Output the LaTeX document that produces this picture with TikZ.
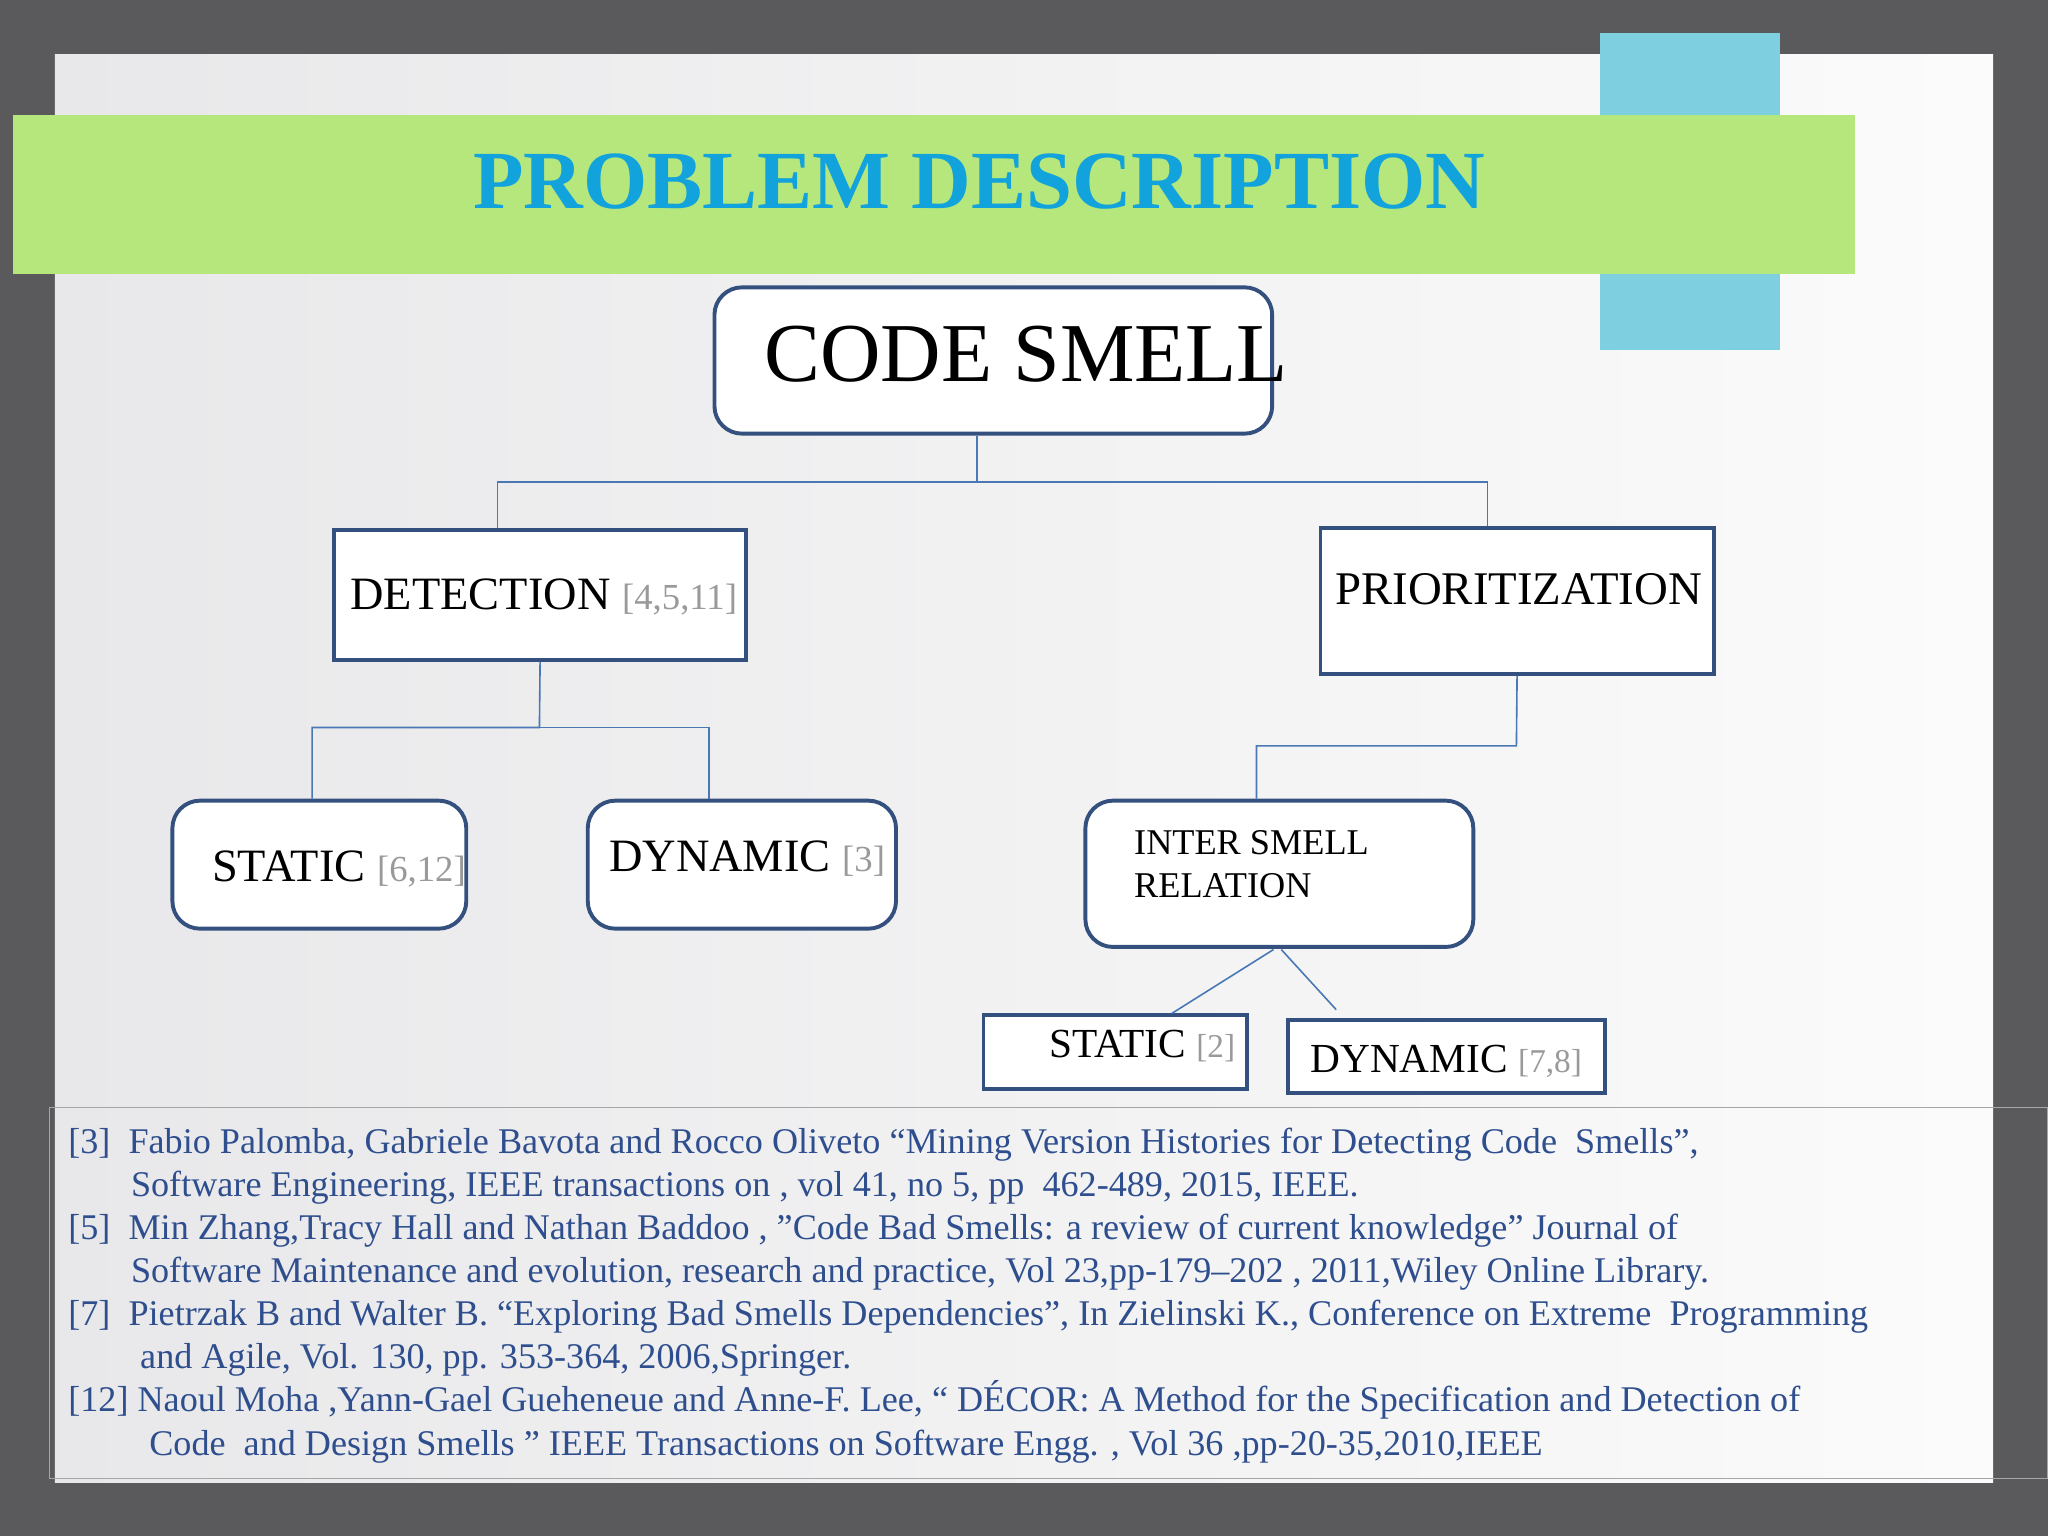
\documentclass[tikz,border=0pt]{standalone}
\usepackage{fontspec}
\setmainfont{Liberation Serif}
\definecolor{frame}{HTML}{5A5A5C}
\definecolor{slide}{HTML}{E8E8EA}
\definecolor{band}{HTML}{B5E77C}
\definecolor{cyanr}{HTML}{7ECFDF}
\definecolor{titleblue}{HTML}{12A3DD}
\definecolor{boxb}{HTML}{34507E}
\definecolor{linkb}{HTML}{4A78B4}
\definecolor{refb}{HTML}{2E4E8E}
\definecolor{cite}{HTML}{9A9A9A}
\tikzset{
 rbox/.style={draw=boxb,line width=1.7pt,rounded corners=12pt,fill=white},
 sbox/.style={draw=boxb,line width=1.7pt,fill=white},
 link/.style={draw=linkb,line width=0.7pt},
 lab/.style={anchor=base west,inner sep=0pt},
 refl/.style={anchor=base west,inner sep=0pt,text=refb,font=\fontsize{15.75}{18}\selectfont},
}
\begin{document}
\begin{tikzpicture}[x=0.02cm,y=-0.02cm]
\useasboundingbox (0,0) rectangle (1568,1176);
\fill[frame] (0,0) rectangle (1568,1176);
\shade[left color=slide,right color=white!97!gray] (42,42) rectangle (1526,1135);
\fill[cyanr] (1225,25) rectangle (1363,268);
\fill[band] (10,88) rectangle (1420,210);
\node[anchor=base west,inner sep=0pt,text=titleblue,font=\bfseries\fontsize{36}{40}\selectfont] (title) at (362,160) {PROBLEM DESCRIPTION};
% boxes
\node[rbox,minimum width=427*0.02cm,minimum height=112*0.02cm] (cs) at (760.5,276) {};
\node[lab,font=\fontsize{36.5}{40}\selectfont] (cst) at (585,292) {CODE SMELL};
\node[sbox,minimum width=315*0.02cm,minimum height=99*0.02cm] (det) at (413.5,455.5) {};
\node[lab,font=\fontsize{20.2}{24}\selectfont] (dett) at (268,467) {DETECTION \textcolor{cite}{\fontsize{16}{20}\selectfont[4,5,11]}};
\node[sbox,minimum width=301*0.02cm,minimum height=112*0.02cm] (pri) at (1161.5,460) {};
\node[lab,font=\fontsize{20.4}{24}\selectfont] (prit) at (1022,463) {PRIORITIZATION};
\node[rbox,minimum width=225*0.02cm,minimum height=98*0.02cm] (st) at (244.5,662) {};
\node[lab,font=\fontsize{20.2}{24}\selectfont] (stt) at (162,675) {STATIC \textcolor{cite}{\fontsize{16}{20}\selectfont[6,12]}};
\node[rbox,minimum width=236*0.02cm,minimum height=98*0.02cm] (dy) at (568,662) {};
\node[lab,font=\fontsize{20.2}{24}\selectfont] (dyt) at (466,667) {DYNAMIC \textcolor{cite}{\fontsize{16}{20}\selectfont[3]}};
\node[rbox,minimum width=297*0.02cm,minimum height=112*0.02cm] (is) at (979.5,669) {};
\node[lab,font=\fontsize{15.8}{20}\selectfont] (ist1) at (868,654) {INTER SMELL};
\node[lab,font=\fontsize{15.8}{20}\selectfont] (ist2) at (868,687) {RELATION};
\node[sbox,minimum width=202*0.02cm,minimum height=57*0.02cm] (s2) at (854,805.5) {};
\node[lab,font=\fontsize{18}{22}\selectfont] (s2t) at (803,810) {STATIC \textcolor{cite}{\fontsize{14.5}{18}\selectfont[2]}};
\node[sbox,minimum width=243*0.02cm,minimum height=56*0.02cm] (d2) at (1107.5,809) {};
\node[lab,font=\fontsize{18}{22}\selectfont] (d2t) at (1003,821) {DYNAMIC \textcolor{cite}{\fontsize{14.5}{18}\selectfont[7,8]}};
% connectors
\draw[link] (cs.south -| 748,0) -- (748,369) -- (381,369) -- (det.north -| 381,0);
\draw[link] (748,369) -- (1139,369) -- (pri.north -| 1139,0);
\draw[link] (det.south) -- (413,557) -- (239,557) -- (st.north -| 239,0);
\draw[link] (413,557) -- (543,557) -- (dy.north -| 543,0);
\draw[link] (pri.south) -- (1161,571) -- (962,571) -- (is.north -| 962,0);
\draw[link] (975,727) -- (897,776);
\draw[link] (981,727) -- (1023,773);
% references
\draw[gray!70,line width=0.6pt] (38,848) rectangle (1568,1132);
\node[refl] (r1) at (52,883) {[3]\ \ Fabio Palomba, Gabriele Bavota and Rocco Oliveto “Mining Version Histories for Detecting Code\ \ Smells”,};
\node[refl] (r2) at (100,916) {Software Engineering, IEEE transactions on , vol 41, no 5, pp\ \ 462-489, 2015, IEEE.};
\node[refl] (r3) at (52,949) {[5]\ \ Min Zhang,Tracy Hall and Nathan Baddoo , ”Code Bad Smells: a review of current knowledge” Journal of};
\node[refl] (r4) at (100,982) {Software Maintenance and evolution, research and practice, Vol 23,pp-179–202 , 2011,Wiley Online Library.};
\node[refl] (r5) at (52,1015) {[7]\ \ Pietrzak B and Walter B. “Exploring Bad Smells Dependencies”, In Zielinski K., Conference on Extreme\ \ Programming};
\node[refl] (r6) at (107,1048) {and Agile, Vol. 130, pp. 353-364, 2006,Springer.};
\node[refl] (r7) at (52,1081) {[12] Naoul Moha ,Yann-Gael Gueheneue and Anne-F. Lee, “ DÉCOR: A Method for the Specification and Detection of};
\node[refl] (r8) at (114,1114) {Code\ \ and Design Smells ” IEEE Transactions on Software Engg. , Vol 36 ,pp-20-35,2010,IEEE};
\end{tikzpicture}
\end{document}
